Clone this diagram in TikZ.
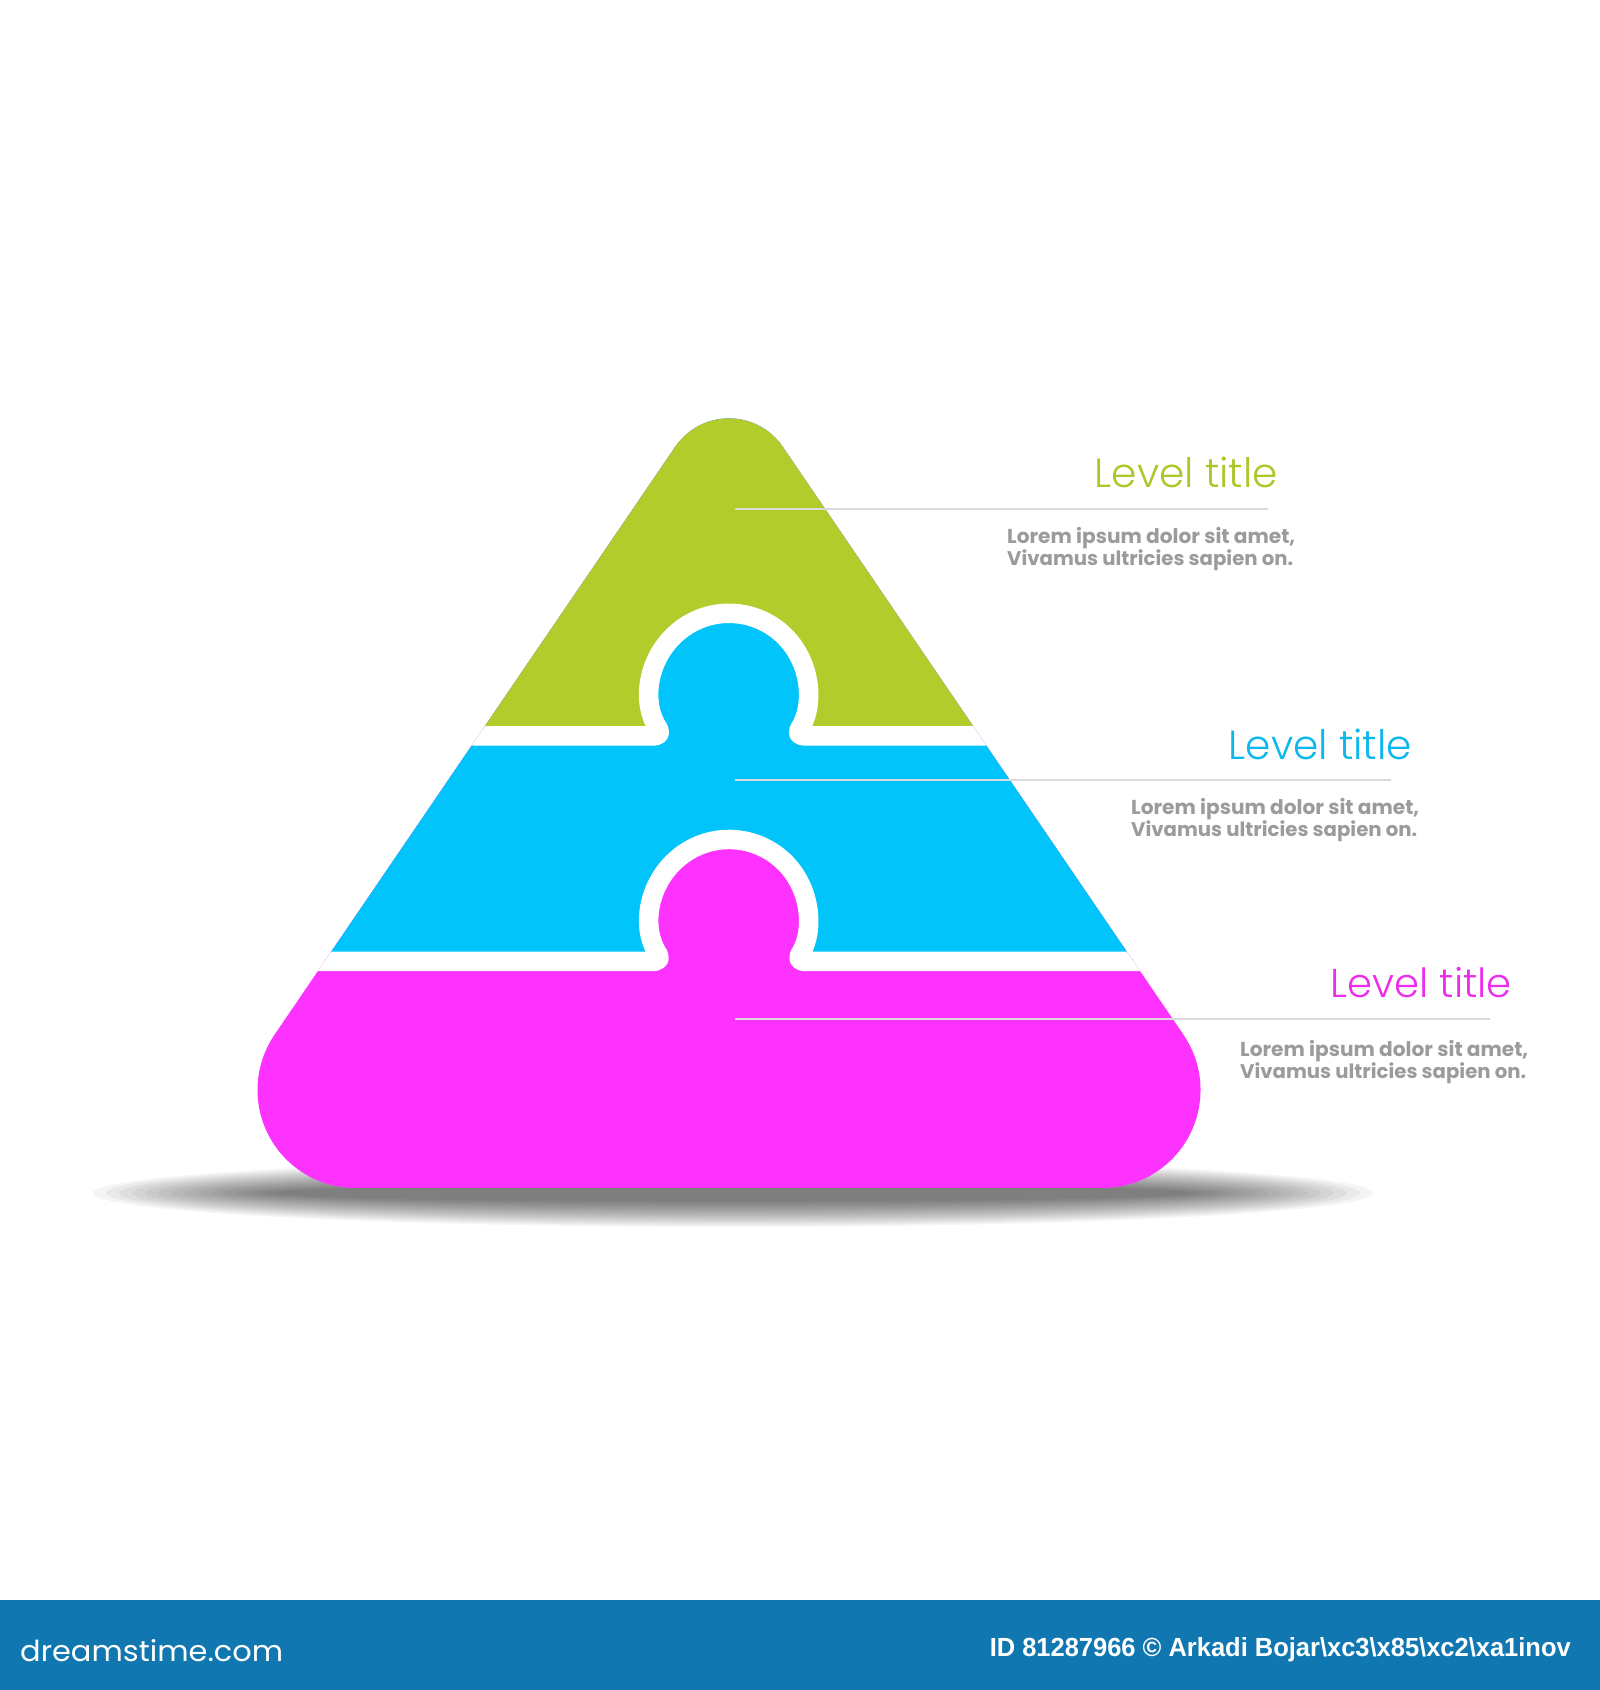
\documentclass[tikz,border=0pt]{standalone}
\usepackage{fontspec}
\setmainfont{Poppins}
\newfontfamily\titlefont{Poppins Light}
\newfontfamily\barfont{Liberation Sans}
\definecolor{pgreen}{RGB}{178,204,44}
\definecolor{pblue}{RGB}{0,196,250}
\definecolor{pmag}{RGB}{254,50,254}
\definecolor{tgreen}{RGB}{170,200,40}
\definecolor{tblue}{RGB}{10,184,238}
\definecolor{tmag}{RGB}{236,46,236}
\definecolor{bodygray}{RGB}{155,155,155}
\definecolor{linegray}{RGB}{218,218,218}
\definecolor{barblue}{RGB}{16,119,176}
\tikzset{
  gapline/.style={draw=white, line width=19.5pt, line join=round, rounded corners=9pt},
  conn/.style={draw=linegray, line width=2pt},
  ttl/.style={inner sep=0pt, font=\titlefont},
  bodytxt/.style={inner sep=0pt, text=bodygray, font=\bfseries, anchor=base west},
  shadowlayer/.style={fill=black, fill opacity=0.045},
}
\begin{document}
\begin{tikzpicture}[x=1pt,y=1pt]
\useasboundingbox (0,0) rectangle (1600,1690);
\fill[white] (0,0) rectangle (1600,1690);
% soft shadow (stacked translucent ellipses)
\foreach \i in {0,...,14}{
  \fill[shadowlayer] (733,497) ellipse [x radius={640-13*\i}, y radius={34-1.8*\i}];
}
% pyramid
\begin{scope}
\clip (274.5,655.2) -- (675.3,1243.2) arc[start angle=145.72, end angle=34.28, radius=65]
  -- (1183.5,655.2) arc[start angle=34.28, end angle=-90, radius=98]
  -- (355.5,502) arc[start angle=270, end angle=145.72, radius=98] -- cycle;
\fill[pmag] (0,400) rectangle (1600,1300);
\fill[pblue] (0,728.6) rectangle (1600,1300);
\fill[pmag] (729,771.5) circle[radius=79];
\fill[pgreen] (0,954.1) rectangle (1600,1300);
\fill[pblue] (729,997.7) circle[radius=79];
\draw[gapline] (100,954.1) -- (663.1,954.1) arc[start angle=213.5,end angle=-33.5,radius=79] -- (1400,954.1);
\draw[gapline] (100,728.6) -- (662.7,728.6) arc[start angle=212.9,end angle=-32.9,radius=79] -- (1400,728.6);
\end{scope}
% connectors
\coordinate (c1s) at (735,1181);
\coordinate (c1e) at (1268,1181);
\coordinate (c2s) at (735,909.5);
\coordinate (c2e) at (1391,909.5);
\coordinate (c3s) at (735,670.5);
\coordinate (c3e) at (1490,670.5);
\draw[conn] (c1s) -- (c1e);
\draw[conn] (c2s) -- (c2e);
\draw[conn] (c3s) -- (c3e);
% titles
\node[ttl, text=tgreen, anchor=base east] (t1) at (1278,1202) {\resizebox{183pt}{!}{Level title}};
\node[ttl, text=tblue, anchor=base east] (t2) at (1412,930) {\resizebox{183pt}{!}{Level title}};
\node[ttl, text=tmag, anchor=base east] (t3) at (1512,692) {\resizebox{181pt}{!}{Level title}};
% body texts
\node[bodytxt] (b1a) at (1007,1146) {\resizebox{288pt}{!}{Lorem ipsum dolor sit amet,}};
\node[bodytxt] (b1b) at (1007,1124) {\resizebox{286pt}{!}{Vivamus ultricies sapien on.}};
\node[bodytxt] (b2a) at (1131,875.5) {\resizebox{288pt}{!}{Lorem ipsum dolor sit amet,}};
\node[bodytxt] (b2b) at (1131,853.5) {\resizebox{286pt}{!}{Vivamus ultricies sapien on.}};
\node[bodytxt] (b3a) at (1240,633) {\resizebox{288pt}{!}{Lorem ipsum dolor sit amet,}};
\node[bodytxt] (b3b) at (1240,611) {\resizebox{286pt}{!}{Vivamus ultricies sapien on.}};
% bottom bar
\fill[barblue] (0,0) rectangle (1600,90);
\node[anchor=base west, text=white, inner sep=0pt] (logo) at (20,28.3) {\resizebox{263pt}{22pt}{dreamstime.com}};
\node[anchor=base east, text=white, inner sep=0pt] (credit) at (1571,33) {\resizebox{581pt}{19pt}{\barfont\bfseries ID 81287966 © Arkadi Bojar\textbackslash xc3\textbackslash x85\textbackslash xc2\textbackslash xa1inov}};
\end{tikzpicture}
\end{document}
